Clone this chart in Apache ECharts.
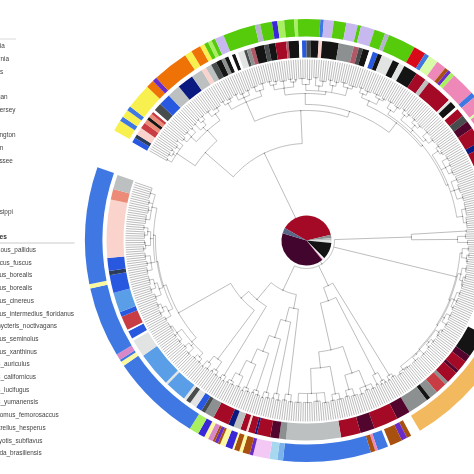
<!DOCTYPE html>
<html>
<head>
<meta charset="utf-8">
<style>html,body{margin:0;padding:0;background:#fff}#main{width:474px;height:474px}</style>
<script src="https://cdn.jsdelivr.net/npm/echarts@6/dist/echarts.min.js"></script>
</head>
<body>
<div id="main"></div>
<script>
// legend text
var stateNames = ['Georgia','California','Kansas','Ohio','Michigan','New Jersey','Illinois','Washington','Oregon','Tennessee','Iowa','Utah','Illinois','Mississippi'];
var speciesNames = ['Antrozous_pallidus','Eptesicus_fuscus','Lasiurus_borealis','Lasiurus_borealis','Lasiurus_cinereus','Lasiurus_intermedius_floridanus','Lasionycteris_noctivagans','Lasiurus_seminolus','Lasiurus_xanthinus','Myotis_auriculus','Myotis_californicus','Myotis_lucifugus','Myotis_yumanensis','Nyctinomus_femorosaccus','Parastrellus_hesperus','Perimyotis_subflavus','Tadarida_brasiliensis'];

// ring colours
var c = {
  gap:'rgba(0,0,0,0)', blue:'#3f78e2', yellow:'#f8f04e', orange:'#ee7205', purple:'#6a2cc8', green:'#55cb0c', lime:'#a8f060',
  lav:'#c8b8f0', lavg:'#b4b4cc', indigo:'#3a28d8', red:'#d80a1a', plime:'#d8fca8', pink:'#ee88b8', brown:'#a8500f', gold:'#f2b95f',
  sky:'#a8d8f0', lblue:'#7ab4ea', lilac:'#f4c8f4', pyel:'#fbf8a0', orchid:'#d888c8',
  crim:'#a40a26', wine:'#52062e', navy:'#0a1a80', black:'#141414', white:'#ffffff', lgrey:'#bcc0c0', xgrey:'#e2e4e4', grey:'#8c9090', dgrey:'#484c4c',
  rose:'#b05868', ppink:'#fad4cc', salmon:'#ec8c78', bred:'#c83c44', iblue:'#2858e0', steel:'#5a9ee8', slate:'#2c3c58'
};

// outer ring: [start angle clockwise from twelve o'clock, colour]
var outerSpans = [[-60.2,'yellow'],[-57.3,'blue'],[-56,'yellow'],[-54,'blue'],[-52.8,'yellow'],[-46,'orange'],[-43.9,'purple'],[-42.7,'orange'],
  [-33.2,'yellow'],[-31.3,'orange'],[-28.7,'yellow'],[-27.5,'green'],[-26.4,'lime'],[-25.4,'green'],[-24.4,'lav'],[-22,'green'],[-13.5,'lavg'],[-12.1,'green'],
  [-9,'indigo'],[-7.6,'lime'],[-5.8,'green'],[-3.2,'lime'],[-2.3,'green'],[3.6,'blue'],[4.5,'lav'],[7.1,'green'],[10.4,'lav'],[13.4,'green'],[14.3,'lav'],
  [17.9,'green'],[20.8,'lavg'],[21.9,'green'],[29.2,'red'],[32.4,'blue'],[33.6,'plime'],[36.2,'pink'],[38.8,'brown'],[39.8,'purple'],[40.7,'lime'],[41.8,'pink'],
  [48.2,'blue'],[49.5,'pink'],[53,'plime'],[53.6,'pink'],[70,'gap'],[110,'gold'],[149.2,'gap'],[151.8,'brown'],[153,'purple'],[154.5,'brown'],[157.7,'gap'],
  [158.4,'blue'],[161.2,'pink'],[161.9,'brown'],[163.1,'blue'],[186.1,'lblue'],[187.6,'sky'],[189.7,'lilac'],[194,'purple'],[194.9,'brown'],[196.8,'pyel'],
  [197.7,'brown'],[199.1,'pyel'],[199.6,'indigo'],[201.5,'pyel'],[203,'brown'],[203.6,'purple'],[204.5,'brown'],[205.1,'orchid'],[206.4,'pyel'],[207.5,'indigo'],[209.3,'lime'],
  [211.8,'blue'],[235.6,'pyel'],[236.8,'blue'],[237.4,'orchid'],[239,'blue'],[257.5,'pyel'],[258.6,'blue'],[289.3,'gap'],[299.8,null]];

// inner ring
var innerSpans = [[-60.6,'iblue'],[-59.1,'slate'],[-58,'ppink'],[-55.8,'bred'],[-54,'salmon'],[-52.8,'black'],[-51.9,'salmon'],[-50.8,'bred'],[-50,'white'],[-49.3,'dgrey'],
  [-47,'iblue'],[-43.5,'lgrey'],[-39.7,'navy'],[-34.9,'lgrey'],[-31.6,'ppink'],[-30.2,'lgrey'],[-28.5,'dgrey'],[-26.9,'black'],[-25.2,'grey'],[-24.1,'black'],[-23,'white'],
  [-21.9,'black'],[-20.9,'white'],[-20.1,'xgrey'],[-18.2,'dgrey'],[-17.4,'grey'],[-16.3,'rose'],[-15.1,'black'],[-12.3,'dgrey'],[-11,'black'],[-9,'crim'],[-5.9,'rose'],
  [-5.2,'black'],[-2.2,'white'],[-1.3,'iblue'],[0,'dgrey'],[1.3,'black'],[3.5,'ppink'],[4.5,'black'],[9.3,'grey'],[13.7,'rose'],[15.2,'dgrey'],[16.4,'black'],[18.3,'white'],
  [19.4,'iblue'],[20.9,'black'],[22.2,'xgrey'],[25.6,'black'],[27.6,'xgrey'],[29.3,'black'],[33.4,'crim'],[36.5,'lgrey'],[37.8,'crim'],[45.4,'xgrey'],[46.2,'black'],
  [48.2,'white'],[49,'crim'],[51.4,'dgrey'],[53.5,'wine'],[55.9,'crim'],[60.3,'navy'],[62,'crim'],[66,'gap'],[118,'black'],[125.3,'wine'],[127.3,'crim'],[130.5,'wine'],
  [131.5,'crim'],[135,'grey'],[136,'bred'],[139.3,'grey'],[141.8,'black'],[143,'grey'],[149,'wine'],[153,'crim'],[160.1,'wine'],[164.3,'crim'],[170,'lgrey'],[185.9,'grey'],
  [187.9,'wine'],[190.5,'crim'],[194.4,'navy'],[195,'crim'],[197,'ppink'],[197.6,'crim'],[199.3,'lgrey'],[201.4,'navy'],[203,'crim'],[207.7,'grey'],[210.5,'dgrey'],[211.7,'iblue'],
  [213.5,'xgrey'],[215.6,'dgrey'],[217,'xgrey'],[217.8,'steel'],[224,'xgrey'],[224.7,'steel'],[234.8,'xgrey'],[240,'white'],[240.7,'iblue'],[243,'white'],[243.5,'bred'],
  [247.6,'iblue'],[249,'steel'],[254.8,'iblue'],[260,'slate'],[261.2,'iblue'],[265,'ppink'],[281.8,'salmon'],[284.9,'lgrey'],[289.1,'gap'],[299.4,null]];

// central pie
var pieSpans = [[-60.3,'crim'],[76.7,'grey'],[84,'lgrey'],[90,'xgrey'],[96,'black'],[135,'white'],[139,'pink'],[141,'plum'],[287,'slateb'],[299.7,null]];
c.plum = '#42062e'; c.slateb = '#5a6688';

// the tree: [node radius, child, child...], a plain number child is that many tips on the node
var cladeA1 = [134,
  [156,[161,2],[159,[162,3],[162,2]],[160,3],[163,2]],
  [148,[155,[159,3],[161,4],[160,2]],[153,[161,3],[158,[162,2],[162,3]]],[156,[162,4],[160,5]]]];
var cladeA2Left = [151,[158,[162,3],[161,4]],[156,[162,3],[160,3],[161,3]],[157,[162,4],[163,4]]];
var cladeA2Mid = [147,
  [154,[159,[163,3],[162,3]],[161,4],[159,[162,3],[161,2]]],
  [150,[156,[162,4],[161,3]],[155,[163,3],[160,4]],[157,[162,3],[161,3]],[158,[162,4],[161,5]]]];
var cladeA2Right = [148,
  [153,[157,[162,3],[161,4]],[159,[162,5],[161,3]]],
  [150,[155,[162,4],[161,4]],
    [153,[159,[163,3],[162,3]],[158,[162,4],[161,4]],[156,[162,5],[161,4]]],
    [152,[159,[162,4],[161,3]],[157,[163,4],[162,3],[161,4]],[156,[162,4],[161,5],[162,4]],[158,[162,7],[161,6]]]]];
var cladeA = [97, cladeA1, [130, cladeA2Left, [136, cladeA2Mid, cladeA2Right]]];
var cladeB = [105,[160,2],[151,[159,3],[161,3]]];
var cladeC = [154,
  [156,[162,3],[161,[163,3],[162,3]]],
  [155,[158,[162,4],[161,[163,4],[162,4]]],
    [156,[159,[162,4],[162,4],[161,3]],[158,[162,5],[163,4]],
      [157,[161,[163,3],[162,3]],[159,[162,4],[162,3]],[158,[163,5],[162,5]],[161,[162,5],[163,4]]]]]];
var cladeD = [50,
  [158,[161,3],[162,2]],
  [64,[150,[159,[162,2],[162,2]],[160,2]],
    [112,[140,[157,[162,3],[161,3],[163,3]],[155,[162,4],[161,3]]],
      [128,[156,[162,4],[162,3]],[153,[163,4],[161,4],[162,5],[162,4]]]]]];
var cladeELadder = [69,[155,[162,3],[161,3]],
  [83,[156,[162,3],[161,2]],
    [102,[157,[162,3],[163,2]],
      [119,[158,[162,3],[161,2]],
        [134,[159,[162,3],[163,2]],
          [150,[161,3],[159,[162,3],[162,2]]]]]]]];
var cladeEUpper = [147,
  [153,[158,[162,3],[162,3]],[156,[163,4],[161,3]],[159,[162,4],[162,3],[161,6]]],
  [150,[155,[161,3],[159,[163,4],[162,4]]],
    [151,[155,[161,4],[158,[163,4],[162,5]]],
      [153,[157,[162,4],[161,3],[162,4]],[156,[161,[163,3],[162,3]],[159,[162,4],[163,3]]],[158,[162,5],[161,4],[162,3],[163,6]]]]]];
var cladeE = [55, cladeELadder,
  [77,[158,[163,2],[162,2]],
    [87,[148,[158,[162,3],[161,2]],[156,[162,3],[163,2]]], cladeEUpper]]];
var treeRoot = [24, cladeA, [28, cladeB, cladeC, cladeD, cladeE]];

var CX = 306.5, CY = 240.5, R = 221.5, TIP_R = 181;
var TREE_START = 299.4, TREE_SPAN = 349.7;

function countTips(n) {
  if (typeof n === 'number') return n;
  var s = 0;
  for (var i = 1; i < n.length; i++) s += countTips(n[i]);
  return s;
}
var tipTotal = countTips(treeRoot);
var tipNo = 0, branches = [], nodeDots = [];

function place(n) {
  var r = n[0], angles = [];
  for (var i = 1; i < n.length; i++) {
    if (typeof n[i] === 'number') {
      for (var k = 0; k < n[i]; k++) {
        var t = TREE_START + (tipNo++ + 0.5) * TREE_SPAN / tipTotal;
        branches.push([r, t, TIP_R, t]);
        angles.push(t);
      }
    } else {
      var a = place(n[i]);
      branches.push([r, a, n[i][0], a]);
      angles.push(a);
    }
  }
  var a0 = angles[0], a1 = angles[angles.length - 1];
  branches.push([r, a0, r, a1]);
  var mid = (a0 + a1) / 2;
  nodeDots.push([r, mid % 360]);
  return mid;
}
place(treeRoot);

function ring(spans, r0, r1, z) {
  var data = [];
  for (var i = 0; i + 1 < spans.length; i++) {
    data.push({ value: spans[i + 1][0] - spans[i][0], itemStyle: { color: c[spans[i][1]] } });
  }
  return {
    type: 'pie', center: [CX, CY], radius: [r0, r1], startAngle: 90 - spans[0][0], clockwise: true,
    data: data, label: { show: false }, labelLine: { show: false },
    silent: true, animation: false, z: z, minAngle: 0, avoidLabelOverlap: false
  };
}

function renderBranch(params, api) {
  var r0 = api.value(0), t0 = api.value(1), r1 = api.value(2), t1 = api.value(3), pts = [];
  var steps = Math.max(1, Math.ceil(Math.abs(t1 - t0)));
  for (var i = 0; i <= steps; i++) {
    var t = t0 + (t1 - t0) * i / steps;
    pts.push(api.coord([r0 + (r1 - r0) * i / steps, t % 360]));
  }
  var fine = Math.min(r0, r1) > 148;
  return {
    type: 'polyline', shape: { points: pts }, silent: true,
    style: { fill: null, stroke: r1 === TIP_R ? '#8f8f8f' : (fine ? '#777' : '#a0a0a0'), lineWidth: r1 === TIP_R ? 0.6 : (fine ? 0.45 : 0.7) }
  };
}

var textFont = '6.4px "Liberation Sans", Arial, sans-serif';
var graphics = [
  { type: 'line', shape: { x1: 0, y1: 39, x2: 16, y2: 39 }, style: { stroke: '#cfcfcf', lineWidth: 0.8 } },
  { type: 'line', shape: { x1: 0, y1: 243, x2: 74.5, y2: 243 }, style: { stroke: '#c4c4c4', lineWidth: 0.9 } },
  { type: 'text', style: { text: 'Species', x: -18, y: 237.3, fill: '#333', font: 'bold 6.6px "Liberation Sans", Arial, sans-serif', textVerticalAlign: 'middle' } }
];
stateNames.forEach(function (name, i) {
  graphics.push({ type: 'text', style: { text: name, x: -18, y: 46.7 + i * 12.7, fill: '#444', font: textFont, textVerticalAlign: 'middle' } });
});
speciesNames.forEach(function (name, i) {
  graphics.push({ type: 'text', style: { text: name, x: -18, y: 250.3 + i * 12.7, fill: '#444', font: textFont, textVerticalAlign: 'middle' } });
});

var chart = echarts.init(document.getElementById('main'), null, { renderer: 'canvas' });
var option = {
  animation: false,
  backgroundColor: '#fff',
  polar: { center: [CX, CY], radius: R },
  angleAxis: { type: 'value', min: 0, max: 360, startAngle: 90, clockwise: true, show: false },
  radiusAxis: { type: 'value', min: 0, max: R, show: false },
  graphic: graphics,
  series: [
    { type: 'custom', coordinateSystem: 'polar', data: branches, renderItem: renderBranch, silent: true, z: 1, animation: false,
      encode: { radius: 0, angle: 1 } },
    { type: 'scatter', coordinateSystem: 'polar', data: nodeDots, symbolSize: 1.2, silent: true, z: 1,
      itemStyle: { color: '#6a6a6a' } },
    ring(outerSpans, 204, R, 2),
    ring(innerSpans, 183, 200, 2),
    ring(pieSpans, 0, 25, 3)
  ]
};
chart.setOption(option);
window.onresize = chart.resize;
</script>
</body>
</html>
